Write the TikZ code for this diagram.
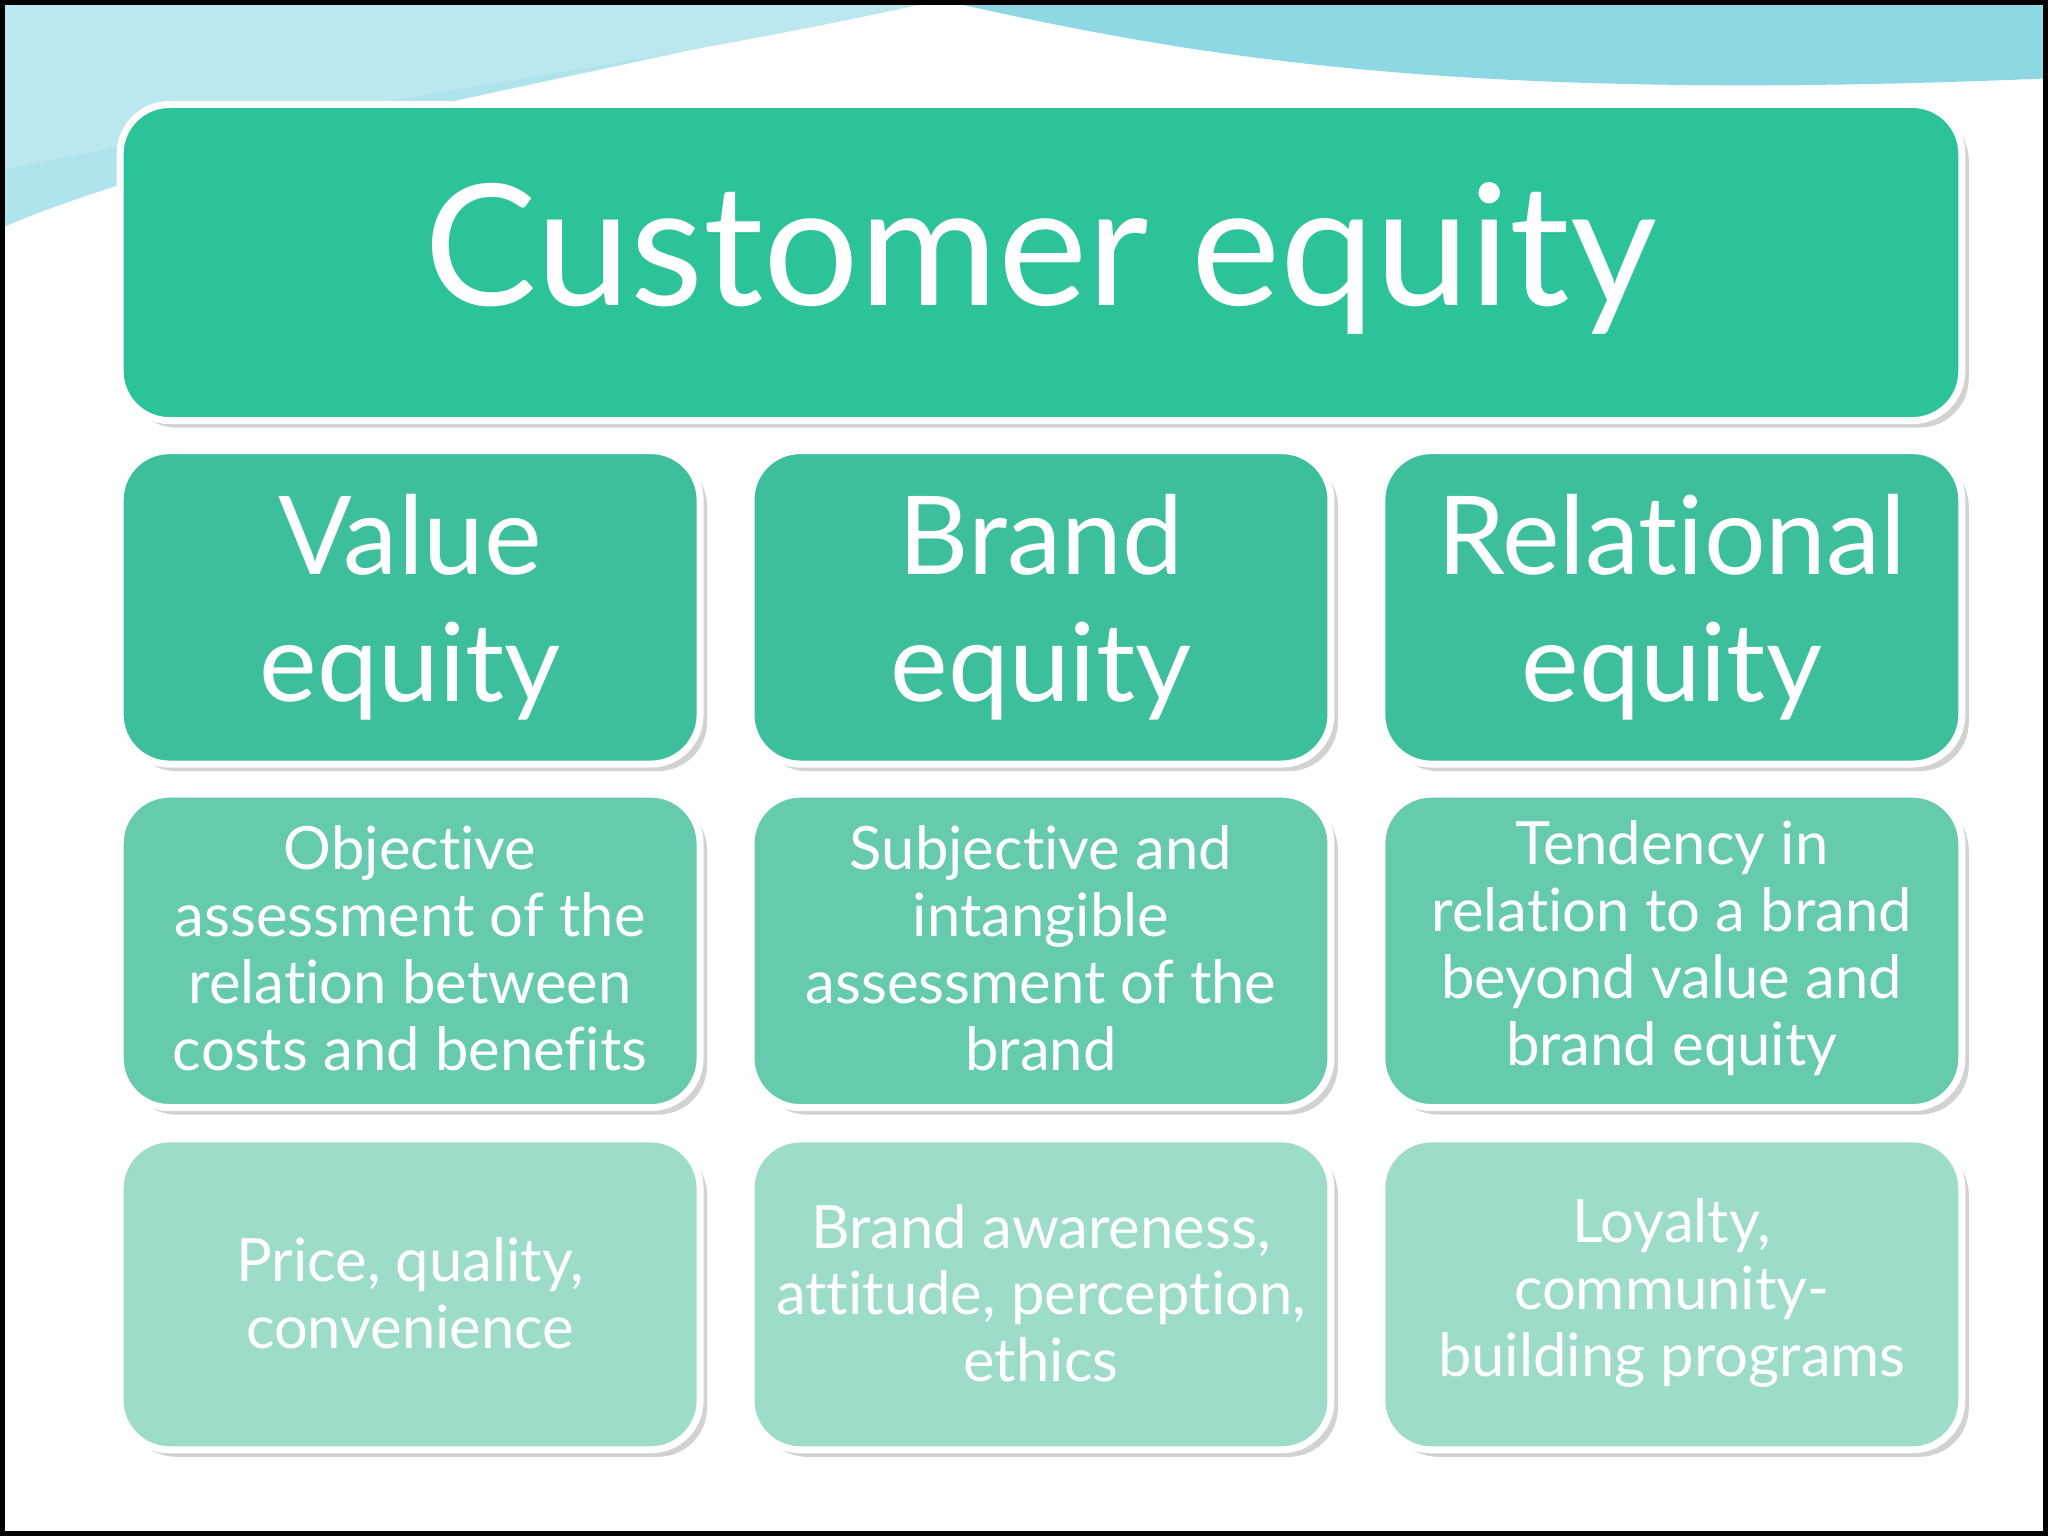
\documentclass[tikz,border=0pt]{standalone}
\usepackage{fontspec}
\setmainfont[Ligatures={NoCommon,NoRare,NoContextual}]{Lato}
\usetikzlibrary{shadows}
\definecolor{c1}{HTML}{2CC39A}
\definecolor{c2}{HTML}{3DBF9E}
\definecolor{c3}{HTML}{66CBAE}
\definecolor{c4}{HTML}{9CDCC8}
\definecolor{sky}{HTML}{8ED8E4}
\tikzset{
  box/.style={rounded corners=14pt,draw=white,line width=2pt,drop shadow={opacity=0.35,shadow xshift=2pt,shadow yshift=-2pt}},
  h/.style={text=white,align=center,font=\fontsize{31}{36}\selectfont},
  d/.style={text=white,align=center,font=\fontsize{17}{19}\selectfont},
}
\begin{document}
\begin{tikzpicture}[x=0.013061cm,y=-0.013061cm]
\useasboundingbox (0,0) rectangle (1568,1176);
\fill[white] (0,0) rectangle (1568,1176);
\fill[sky!70] (0,0) -- (0,175) .. controls (150,110) and (400,70) .. (700,0) -- cycle;
\fill[sky] (720,0) .. controls (900,40) and (1100,80) .. (1568,60) -- (1568,0) -- cycle;
\fill[sky!60] (0,0) -- (720,0) .. controls (500,50) and (250,80) .. (0,130) -- cycle;
\draw[black,line width=3pt] (0,0) rectangle (1568,1176);
\path[box,fill=c1] (92,80) rectangle (1502,322);
\node[text=white,font=\fontsize{48}{56}\selectfont] (title) at (797,198) {Customer equity};
\foreach \x in {92,575,1058}{
  \path[box,fill=c2] (\x,345) rectangle ++(444,240);
  \path[box,fill=c3] (\x,608) rectangle ++(444,240);
  \path[box,fill=c4] (\x,872) rectangle ++(444,238);
}
\node[h] (va) at (314,465) {Value\\equity};
\node[h] (vb) at (797,465) {Brand\\equity};
\node[h] (vc) at (1280,465) {Relational\\equity};
\node[d] (da) at (314,726) {Objective\\assessment of the\\relation between\\costs and benefits};
\node[d] (db) at (797,726) {Subjective and\\intangible\\assessment of the\\brand};
\node[d] (dc) at (1280,726) {Tendency in\\relation to a brand\\beyond value and\\brand equity};
\node[d] (ea) at (314,990) {Price, quality,\\convenience};
\node[d] (eb) at (797,990) {Brand awareness,\\attitude, perception,\\ethics};
\node[d] (ec) at (1280,990) {Loyalty,\\community-\\building programs};
\end{tikzpicture}
\end{document}
